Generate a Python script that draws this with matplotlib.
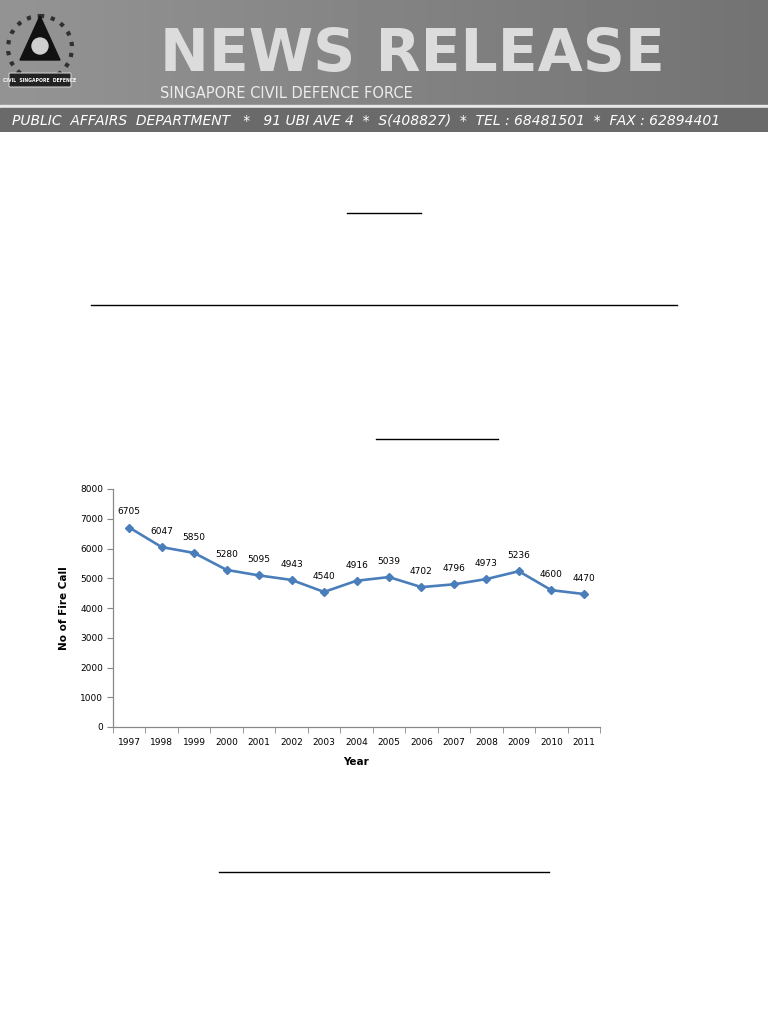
import matplotlib.pyplot as plt
import matplotlib.patches as mpatches
import numpy as np

# data
years = ['1997', '1998', '1999', '2000', '2001', '2002', '2003', '2004',
         '2005', '2006', '2007', '2008', '2009', '2010', '2011']
fire_calls = [6705, 6047, 5850, 5280, 5095, 4943, 4540, 4916,
              5039, 4702, 4796, 4973, 5236, 4600, 4470]
y_ticks = [0, 1000, 2000, 3000, 4000, 5000, 6000, 7000, 8000]

W, H = 768, 1024
fig = plt.figure(figsize=(W / 100, H / 100), dpi=100)
fig.patch.set_facecolor('white')

def fx(px):
    return px / W

def fy(py):
    return 1 - py / H

# ---- header banner
ban = fig.add_axes([0, fy(132), 1, 132 / H])
ban.set_xlim(0, W)
ban.set_ylim(132, 0)
ban.axis('off')
grad = np.linspace(0.58, 0.45, 256).reshape(1, -1)
ban.imshow(grad, extent=[0, W, 105, 0], cmap='gray', vmin=0, vmax=1, aspect='auto')
ban.add_patch(mpatches.Rectangle((0, 105), W, 3, color='#e8e8e8'))
ban.add_patch(mpatches.Rectangle((0, 108), W, 24, color='#6a6a6a'))

# logo
ban.add_patch(mpatches.Circle((40, 48), 32, fill=False, ec='#303030', lw=3, ls=':'))
ban.add_patch(mpatches.Polygon([[40, 16], [20, 60], [60, 60]], color='#111111'))
ban.add_patch(mpatches.Circle((40, 46), 8, color='#d0d0d0'))
ban.add_patch(mpatches.FancyBboxPatch((10, 74), 60, 12, boxstyle='round,pad=1',
                                      fc='#222222', ec='#cccccc', lw=0.8))
ban.text(40, 80, 'CIVIL  SINGAPORE  DEFENCE', fontsize=3.3, color='white',
         ha='center', va='center', weight='bold')

ban.text(160, 54, 'NEWS RELEASE', fontsize=42, color='#dcdcdc', weight='bold',
         ha='left', va='center')
ban.text(160, 93, 'SINGAPORE CIVIL DEFENCE FORCE', fontsize=10.5, color='#ececec',
         ha='left', va='center')
ban.text(12, 120, 'PUBLIC  AFFAIRS  DEPARTMENT   *   91 UBI AVE 4  *  S(408827)  *  '
         'TEL : 68481501  *  FAX : 62894401',
         fontsize=10, color='white', style='italic', ha='left', va='center')

# ---- page rules (underlines of headings)
for x0, x1, yy in [(347, 421, 213), (91, 677, 305), (376, 498, 439), (219, 549, 872)]:
    fig.add_artist(plt.Line2D([fx(x0), fx(x1)], [fy(yy), fy(yy)], color='black', lw=1))

# ---- chart
ax = fig.add_axes([fx(113), fy(727), fx(600) - fx(113), (727 - 489) / H])
x = np.arange(len(years))
ax.plot(x, fire_calls, color='#4a7ebb', lw=1.9, marker='D', markersize=4.5)
for xi, v in zip(x, fire_calls):
    ax.annotate(str(v), (xi, v), xytext=(0, 8), textcoords='offset points',
                ha='center', va='bottom', fontsize=6.5)

ax.set_xlim(-0.5, len(years) - 0.5)
ax.set_ylim(0, 8000)
ax.set_yticks(y_ticks)
ax.set_xticks(x)
ax.set_xticklabels(years)
ax.set_xticks(np.arange(-0.5, len(years), 1), minor=True)
ax.tick_params(axis='x', which='major', length=0, pad=8, labelsize=6.5)
ax.tick_params(axis='x', which='minor', length=4, color='#888888', direction='out')
ax.tick_params(axis='y', length=4, color='#888888', labelsize=6.5, pad=3)
for s in ['top', 'right']:
    ax.spines[s].set_visible(False)
for s in ['left', 'bottom']:
    ax.spines[s].set_color('#888888')
    ax.spines[s].set_linewidth(0.9)
ax.set_xlabel('Year', fontsize=7.5, weight='bold', labelpad=7)
ax.set_ylabel('No of Fire Call', fontsize=7.5, weight='bold', labelpad=8)

fig.savefig('out.png', dpi=100, facecolor='white')
